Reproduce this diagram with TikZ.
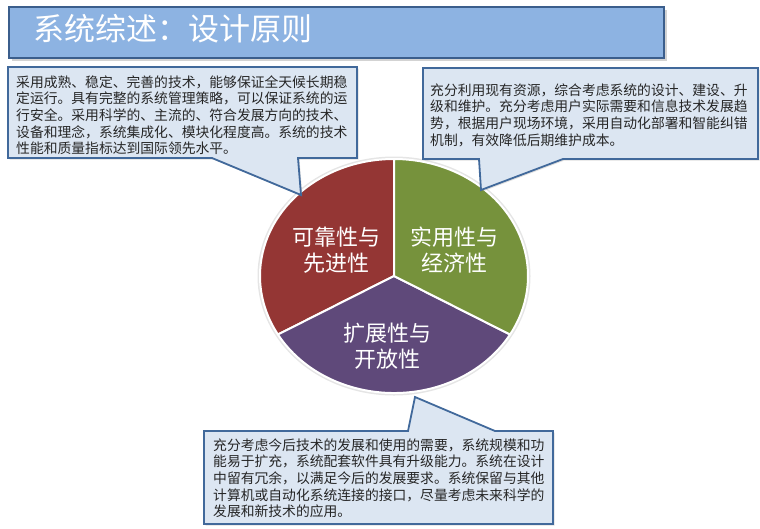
\documentclass[tikz,border=0pt]{standalone}
\usepackage{fontspec}
\newfontfamily\cjk{Noto Sans CJK SC}
\usetikzlibrary{shadows}
\definecolor{titlefill}{HTML}{8DB3E2}
\definecolor{titleline}{HTML}{3B5E8C}
\definecolor{callfill}{HTML}{DCE6F2}
\definecolor{callline}{HTML}{41699B}
\definecolor{slicered}{HTML}{943634}
\definecolor{slicegreen}{HTML}{76923C}
\definecolor{slicepurple}{HTML}{5F497A}
\tikzset{
  callout/.style={fill=callfill, draw=callline, line width=1.8pt, line join=miter,
    drop shadow={shadow xshift=1.5pt, shadow yshift=-1.5pt, opacity=0.25}},
  calltext/.style={anchor=base west, align=left, inner sep=0pt, text=black!85,
    font=\cjk\fontsize{13.8}{16.6}\selectfont},
  slice/.style={draw=white, line width=2pt, line join=round},
  slicetext/.style={anchor=base, align=center, inner sep=0pt, text=white,
    font=\cjk\fontsize{22}{26}\selectfont},
}
\begin{document}
\begin{tikzpicture}[x=1pt,y=1pt]
\useasboundingbox (0,0) rectangle (760,-528);
% title
\node[draw=titleline, fill=titlefill, line width=2pt, minimum width=655, minimum height=51,
  anchor=north west, inner sep=0pt,
  drop shadow={shadow xshift=2.5pt, shadow yshift=-2.5pt, opacity=0.35}] (title) at (8,-6) {};
\node[anchor=base west, inner sep=0pt, text=white, font=\cjk\fontsize{31}{36}\selectfont]
  (titletext) at (33,-40) {系统综述：设计原则};
% pie
\coordinate (c) at (394,-276);
\fill[black!10] (c) ellipse[x radius=136.5, y radius=119.5];
\filldraw[slice, fill=slicered] (c) -- ++(90:134 and 117)
  arc[start angle=90, end angle=210, x radius=134, y radius=117] -- cycle;
\filldraw[slice, fill=slicepurple] (c) -- ++(210:134 and 117)
  arc[start angle=210, end angle=330, x radius=134, y radius=117] -- cycle;
\filldraw[slice, fill=slicegreen] (c) -- ++(330:134 and 117)
  arc[start angle=330, end angle=450, x radius=134, y radius=117] -- cycle;
\node[slicetext] (s1) at (336,-271.4) {可靠性与\\先进性};
\node[slicetext] (s2) at (454,-271.4) {实用性与\\经济性};
\node[slicetext] (s3) at (387,-367.4) {扩展性与\\开放性};
% callouts
\draw[callout] (8,-67) -- (357,-67) -- (357,-158) -- (298,-158) -- (301,-195)
  -- (212,-158) -- (8,-158) -- cycle;
\draw[callout] (423,-68) -- (758,-68) -- (758,-159) -- (563,-159) -- (481,-190)
  -- (479,-159) -- (423,-159) -- cycle;
\draw[callout] (204,-431) -- (408,-431) -- (415,-397) -- (495,-431) -- (553,-431)
  -- (553,-524) -- (204,-524) -- cycle;
\node[calltext] (t1) at (16,-153.6) {采用成熟、稳定、完善的技术，能够保证全天候长期稳\\定运行。具有完整的系统管理策略，可以保证系统的运\\行安全。采用科学的、主流的、符合发展方向的技术、\\设备和理念，系统集成化、模块化程度高。系统的技术\\性能和质量指标达到国际领先水平。};
\node[calltext] (t2) at (430,-145) {充分利用现有资源，综合考虑系统的设计、建设、升\\级和维护。充分考虑用户实际需要和信息技术发展趋\\势，根据用户现场环境，采用自动化部署和智能纠错\\机制，有效降低后期维护成本。};
\node[calltext] (t3) at (213,-516.6) {充分考虑今后技术的发展和使用的需要，系统规模和功\\能易于扩充，系统配套软件具有升级能力。系统在设计\\中留有冗余，以满足今后的发展要求。系统保留与其他\\计算机或自动化系统连接的接口，尽量考虑未来科学的\\发展和新技术的应用。};
\end{tikzpicture}
\end{document}
